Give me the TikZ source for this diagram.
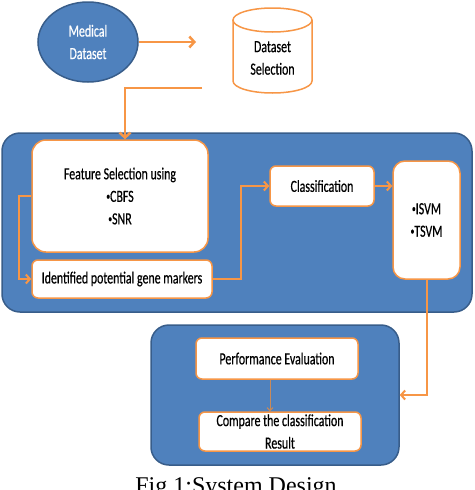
\documentclass[tikz,border=0pt]{standalone}
\usepackage{fontspec}
\setmainfont{Carlito}[FakeStretch=0.7,FakeBold=0.5]
\newfontfamily\capfont{Liberation Serif}
\usetikzlibrary{arrows.meta,shapes.geometric}
\definecolor{ofblue}{HTML}{4F81BD}
\definecolor{ofdark}{HTML}{385D8A}
\definecolor{oforange}{HTML}{F79646}
\definecolor{ofbrown}{HTML}{C98A5A}
\newcommand{\smbul}{\raisebox{2pt}{\fontsize{11}{11}\selectfont\textbullet}}
\tikzset{
  panel/.style={fill=ofblue, draw=ofdark, line width=1.5pt, rounded corners=18pt, inner sep=0pt},
  wbox/.style={fill=white, draw=oforange, line width=1.5pt, rounded corners=6pt,
    font=\fontsize{17}{22.5}\selectfont, align=center, inner sep=0pt},
  flow/.style={draw=oforange, line width=2.5pt, -{Straight Barb[length=5pt,width=11pt]}},
  iflow/.style={draw=oforange, line width=2pt, -{Straight Barb[length=4pt,width=9pt]}},
  thinflow/.style={draw=ofbrown, line width=1pt, -{Straight Barb[length=3pt,width=6pt]}},
  txt/.style={font=\fontsize{17}{22.5}\selectfont, align=center, inner sep=0pt},
}
\begin{document}
\begin{tikzpicture}[x=1pt,y=-1pt]
\useasboundingbox (0,0) rectangle (474,490);
% ellipse
\node[ellipse, fill=ofblue, draw=ofdark, line width=1.5pt, minimum width=100pt, minimum height=80pt,
  text=white, txt] (med) at (88,42) {Medical\\Dataset};
% cylinder
\draw[draw=oforange, line width=1.5pt, fill=white] (233,20) -- (233,81)
  arc[start angle=180, end angle=0, x radius=39.5, y radius=12] -- (312,20);
\draw[draw=oforange, line width=1.5pt, fill=white] (272.5,20) ellipse[x radius=39.5, y radius=12];
\node[txt] (ds) at (272.5,58) {Dataset\\Selection};
\coordinate (a1) at (196,42);
\coordinate (c1) at (202,88);
\draw[flow] (med.east) -- (a1);
% panels
\node[panel, minimum width=470pt, minimum height=179pt] (bp) at (237,222.5) {};
\node[panel, minimum width=248pt, minimum height=140pt] (lp) at (275,395) {};
% boxes
\node[wbox, rounded corners=14pt, minimum width=176pt, minimum height=112pt] (fs) at (120,196)
  {Feature Selection using\\\smbul CBFS\\\smbul SNR};
\node[wbox, minimum width=180pt, minimum height=38pt] (ig) at (122,279) {Identified potential gene markers};
\node[wbox, minimum width=104pt, minimum height=40pt] (cl) at (322,186) {Classification};
\node[wbox, rounded corners=12pt, minimum width=67pt, minimum height=118pt] (sv) at (426.5,220)
  {\smbul ISVM\\\smbul TSVM};
\node[wbox, minimum width=162pt, minimum height=41pt] (pe) at (277,358.5) {Performance Evaluation};
\node[wbox, minimum width=162pt, minimum height=39pt] (cp) at (280,431.5) {Compare the classification\\Result};
% connectors
\draw[flow] (c1) -| (fs.north -| 125,0);
\draw[iflow] (fs.west) -- ++(-12,0) |- (ig.west);
\draw[iflow] (ig.east) -- ++(28,0) |- (cl.west);
\draw[iflow] (cl.east) -- (sv.west |- cl.east);
\draw[iflow] (sv.south) |- (lp.east);
\draw[thinflow] ([xshift=-7pt]pe.south) -- ([xshift=-7pt]pe.south |- cp.north);
% caption
\node[font=\capfont\fontsize{24}{24}\selectfont, anchor=base, inner sep=0pt] (cap) at (236,493) {Fig 1:System Design};
\end{tikzpicture}
\end{document}
